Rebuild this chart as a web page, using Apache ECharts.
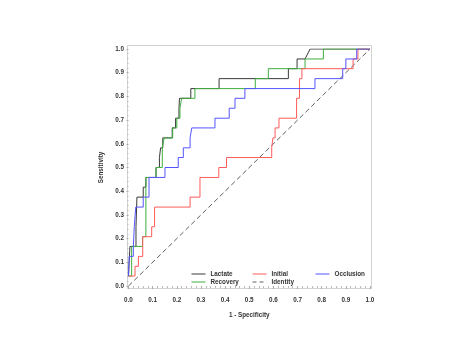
<!DOCTYPE html>
<html>
<head>
<meta charset="utf-8">
<script src="https://cdn.jsdelivr.net/npm/echarts@6/dist/echarts.min.js"></script>
<style>html,body{margin:0;padding:0;background:#fff}#c{width:474px;height:364px}</style>
</head>
<body>
<div id="c"></div>
<script>
const tickLabels = ['0.0','0.1','0.2','0.3','0.4','0.5','0.6','0.7','0.8','0.9','1.0'];
const seriesNames = ['Lactate','Recovery','Initial','Occlusion','Identity'];

const lactate = [[0,0.042],[0.006,0.042],[0.006,0.167],[0.031,0.167],[0.031,0.25],[0.035,0.25],[0.035,0.375],[0.061,0.375],[0.061,0.417],[0.072,0.417],[0.072,0.458],[0.114,0.458],[0.114,0.5],[0.128,0.5],[0.128,0.542],[0.133,0.542],[0.133,0.583],[0.142,0.583],[0.142,0.625],[0.181,0.625],[0.181,0.667],[0.195,0.667],[0.195,0.708],[0.209,0.708],[0.209,0.75],[0.211,0.75],[0.211,0.792],[0.258,0.792],[0.258,0.833],[0.375,0.833],[0.375,0.875],[0.662,0.875],[0.662,0.917],[0.698,0.917],[0.698,0.958],[0.731,0.958],[0.752,1],[1,1]];

const recovery = [[0,0.042],[0.013,0.042],[0.013,0.167],[0.058,0.167],[0.058,0.208],[0.072,0.208],[0.072,0.458],[0.114,0.458],[0.114,0.5],[0.14,0.5],[0.14,0.583],[0.148,0.583],[0.148,0.625],[0.183,0.625],[0.183,0.667],[0.2,0.667],[0.2,0.708],[0.213,0.708],[0.213,0.75],[0.22,0.75],[0.22,0.792],[0.275,0.792],[0.275,0.833],[0.525,0.833],[0.525,0.875],[0.579,0.875],[0.579,0.917],[0.731,0.917],[0.731,0.958],[0.807,0.958],[0.807,1],[1,1]];

const initial = [[0,0.042],[0.027,0.042],[0.027,0.083],[0.041,0.083],[0.041,0.125],[0.059,0.125],[0.059,0.208],[0.096,0.208],[0.096,0.25],[0.108,0.25],[0.108,0.333],[0.255,0.333],[0.255,0.375],[0.296,0.375],[0.296,0.458],[0.374,0.458],[0.374,0.5],[0.406,0.5],[0.406,0.542],[0.593,0.542],[0.593,0.583],[0.598,0.583],[0.598,0.625],[0.607,0.625],[0.607,0.667],[0.623,0.667],[0.623,0.708],[0.696,0.708],[0.696,0.792],[0.708,0.792],[0.708,0.875],[0.718,0.875],[0.718,0.917],[0.93,0.917],[0.93,0.958],[0.95,0.958],[0.95,1],[1,1]];

const occlusion = [[0,0.042],[0.003,0.042],[0.003,0.125],[0.02,0.125],[0.02,0.167],[0.024,0.167],[0.024,0.25],[0.03,0.25],[0.03,0.333],[0.061,0.333],[0.061,0.375],[0.085,0.375],[0.085,0.458],[0.151,0.458],[0.151,0.5],[0.206,0.5],[0.206,0.542],[0.227,0.542],[0.227,0.583],[0.255,0.583],[0.255,0.625],[0.262,0.625],[0.262,0.667],[0.358,0.667],[0.358,0.708],[0.417,0.708],[0.417,0.75],[0.441,0.75],[0.441,0.792],[0.482,0.792],[0.482,0.833],[0.772,0.833],[0.772,0.875],[0.887,0.875],[0.887,0.917],[0.9,0.917],[0.9,0.958],[0.945,0.958],[0.945,1],[1,1]];

const identity = [[0,0],[1,1]];

const colors = {Lactate:'#3a3a3a', Recovery:'#3fae3f', Initial:'#ff5a5a', Occlusion:'#5555ff', Identity:'#606060'};

const font = {fontFamily:'"Liberation Sans", Arial, sans-serif', fontWeight:'bold', fontSize:6.3, color:'#333'};

function lineSeries(name, data, dashed){
  return {
    name: name, type:'line', data: data, symbol:'none', showSymbol:false,
    lineStyle:{color:colors[name], width:1, type: dashed ? [5,3] : 'solid'},
    itemStyle:{color:colors[name]},
    silent:true, animation:false
  };
}

const chart = echarts.init(document.getElementById('c'), null, {renderer:'canvas'});
const legendBase = {orient:'vertical', top:271, itemWidth:14, itemHeight:6, itemGap:2, padding:0,
  textStyle:Object.assign({}, font), selectedMode:false,
  itemStyle:{opacity:0}, lineStyle:{width:1}};
chart.setOption({
  backgroundColor:'#fff',
  animation:false,
  grid:{left:128.5, top:49, width:241.5, height:237, containLabel:false},
  graphic:[{type:'rect', shape:{x:127.5, y:45.5, width:244, height:243}, style:{fill:'none', stroke:'#d2d2d2', lineWidth:1}, silent:true, z:-1}],
  legend:[
    Object.assign({}, legendBase, {left:191, data:['Lactate','Recovery']}),
    Object.assign({}, legendBase, {left:252, data:['Initial',{name:'Identity', lineStyle:{type:[4,3], width:1}}]}),
    Object.assign({}, legendBase, {left:315, data:['Occlusion']})
  ],
  xAxis:{type:'value', min:0, max:1, interval:0.1, offset:3,
    axisLine:{show:false},
    axisTick:{show:true, length:3, lineStyle:{color:'#aaa'}},
    minorTick:{show:true, splitNumber:5, length:2, lineStyle:{color:'#bbb'}},
    splitLine:{show:false},
    axisLabel:Object.assign({}, font, {margin:8.5, formatter:function(v){return tickLabels[Math.round(v*10)];}}),
    name:'1 - Specificity', nameLocation:'middle', nameGap:23,
    nameTextStyle:Object.assign({}, font)
  },
  yAxis:{type:'value', min:0, max:1, interval:0.1, offset:1.5,
    axisLine:{show:false},
    axisTick:{show:true, length:2, lineStyle:{color:'#aaa'}},
    minorTick:{show:true, splitNumber:5, length:1.5, lineStyle:{color:'#bbb'}},
    splitLine:{show:false},
    axisLabel:Object.assign({}, font, {margin:3, formatter:function(v){return tickLabels[Math.round(v*10)];}}),
    name:'Sensitivity', nameLocation:'middle', nameGap:15,
    nameTextStyle:Object.assign({}, font)
  },
  series:[
    lineSeries('Identity', identity, true),
    lineSeries('Lactate', lactate),
    lineSeries('Recovery', recovery),
    lineSeries('Initial', initial),
    lineSeries('Occlusion', occlusion)
  ]
});
</script>
</body>
</html>
